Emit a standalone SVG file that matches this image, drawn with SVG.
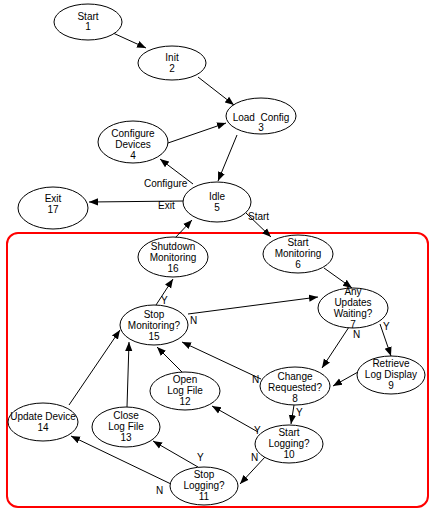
<svg xmlns="http://www.w3.org/2000/svg" width="436" height="513" viewBox="0 0 436 513">
<style>
.n ellipse{fill:#fff;stroke:#000;stroke-width:1}
text{font-family:"Liberation Sans",Arial,sans-serif;font-size:10px;fill:#000}
.n text{text-anchor:middle}
.e line{stroke:#000;stroke-width:1;marker-end:url(#ah)}
</style>
<defs>
<marker id="ah" viewBox="0 0 10 10" refX="10" refY="5" markerWidth="9" markerHeight="9" markerUnits="userSpaceOnUse" orient="auto">
<path d="M0,1 L10,5 L0,9 Z" fill="#000"/>
</marker>
</defs>
<rect x="7" y="233" width="421" height="274" rx="11" fill="none" stroke="#f00" stroke-width="2"/>
<g class="e" id="connectors">
<line x1="113" y1="33" x2="146" y2="48"/>
<line x1="198" y1="77" x2="234" y2="105"/>
<line x1="168" y1="143" x2="226" y2="123"/>
<line x1="237" y1="135" x2="218" y2="181"/>
<line x1="193" y1="184" x2="160" y2="159"/>
<line x1="184" y1="201" x2="89" y2="202"/>
<line x1="246" y1="213" x2="271" y2="237"/>
<line x1="175" y1="238" x2="192" y2="220"/>
<line x1="156" y1="305" x2="173" y2="279"/>
<line x1="188" y1="314" x2="318" y2="297"/>
<line x1="324" y1="268" x2="352" y2="288"/>
<line x1="349" y1="327" x2="322" y2="368"/>
<line x1="380" y1="324" x2="391" y2="356"/>
<line x1="358" y1="372" x2="333" y2="386"/>
<line x1="261" y1="379" x2="182" y2="342"/>
<line x1="294" y1="405" x2="291" y2="424"/>
<line x1="258" y1="432" x2="212" y2="406"/>
<line x1="265" y1="457" x2="240" y2="484"/>
<line x1="198" y1="467" x2="153" y2="441"/>
<line x1="171" y1="484" x2="71" y2="436"/>
<line x1="69" y1="405" x2="120" y2="330"/>
<line x1="127" y1="407" x2="129" y2="342"/>
<line x1="182" y1="372" x2="157" y2="347"/>
</g>
<g id="labels">
<text x="144" y="187">Configure</text>
<text x="158" y="209">Exit</text>
<text x="248" y="220">Start</text>
<text x="161" y="304">Y</text>
<text x="190" y="324">N</text>
<text x="353" y="338">N</text>
<text x="383" y="330">Y</text>
<text x="252" y="383">N</text>
<text x="296" y="416">Y</text>
<text x="254" y="434">Y</text>
<text x="251" y="461">N</text>
<text x="197" y="461">Y</text>
<text x="156" y="494">N</text>
</g>
<g class="n" id="n1"><ellipse cx="88" cy="22" rx="34" ry="18"/><text x="88" y="20">Start</text><text x="88" y="30">1</text></g>
<g class="n" id="n2"><ellipse cx="172" cy="63" rx="34" ry="17"/><text x="172" y="61">Init</text><text x="172" y="72">2</text></g>
<g class="n" id="n3"><ellipse cx="261" cy="116" rx="35" ry="18"/><text x="261" y="121" xml:space="preserve">Load  Config</text><text x="261" y="131">3</text></g>
<g class="n" id="n4"><ellipse cx="133" cy="142" rx="35" ry="21"/><text x="133" y="137">Configure</text><text x="133" y="148">Devices</text><text x="133" y="159">4</text></g>
<g class="n" id="n5"><ellipse cx="217" cy="202" rx="34" ry="20"/><text x="217" y="200">Idle</text><text x="217" y="211">5</text></g>
<g class="n" id="n17"><ellipse cx="53" cy="208" rx="35" ry="21"/><text x="53" y="202">Exit</text><text x="53" y="213">17</text></g>
<g class="n" id="n16"><ellipse cx="173" cy="257" rx="35" ry="20"/><text x="173" y="250">Shutdown</text><text x="173" y="261">Monitoring</text><text x="173" y="272">16</text></g>
<g class="n" id="n6"><ellipse cx="298" cy="254" rx="35" ry="19"/><text x="298" y="246">Start</text><text x="298" y="257">Monitoring</text><text x="298" y="268">6</text></g>
<g class="n" id="n15"><ellipse cx="154" cy="325" rx="34" ry="20"/><text x="154" y="318">Stop</text><text x="154" y="329">Monitoring?</text><text x="154" y="340">15</text></g>
<g class="n" id="n7"><ellipse cx="353" cy="308" rx="35" ry="20"/><text x="353" y="295">Any</text><text x="353" y="306">Updates</text><text x="353" y="317">Waiting?</text><text x="353" y="328">7</text></g>
<g class="n" id="n9"><ellipse cx="391" cy="375" rx="34" ry="19"/><text x="391" y="367">Retrieve</text><text x="391" y="378">Log Display</text><text x="391" y="389">9</text></g>
<g class="n" id="n8"><ellipse cx="295" cy="386" rx="35" ry="19"/><text x="295" y="380">Change</text><text x="295" y="391">Requested?</text><text x="295" y="402">8</text></g>
<g class="n" id="n12"><ellipse cx="185" cy="391" rx="35" ry="19"/><text x="185" y="383">Open</text><text x="185" y="394">Log File</text><text x="185" y="405">12</text></g>
<g class="n" id="n13"><ellipse cx="126" cy="427" rx="34" ry="20"/><text x="126" y="419">Close</text><text x="126" y="430">Log File</text><text x="126" y="441">13</text></g>
<g class="n" id="n14"><ellipse cx="43" cy="422" rx="35" ry="19"/><text x="43" y="420">Update Device</text><text x="43" y="431">14</text></g>
<g class="n" id="n10"><ellipse cx="289" cy="444" rx="34" ry="19"/><text x="289" y="436">Start</text><text x="289" y="447">Logging?</text><text x="289" y="458">10</text></g>
<g class="n" id="n11"><ellipse cx="204" cy="486" rx="34" ry="19"/><text x="204" y="478">Stop</text><text x="204" y="489">Logging?</text><text x="204" y="500">11</text></g>
</svg>
